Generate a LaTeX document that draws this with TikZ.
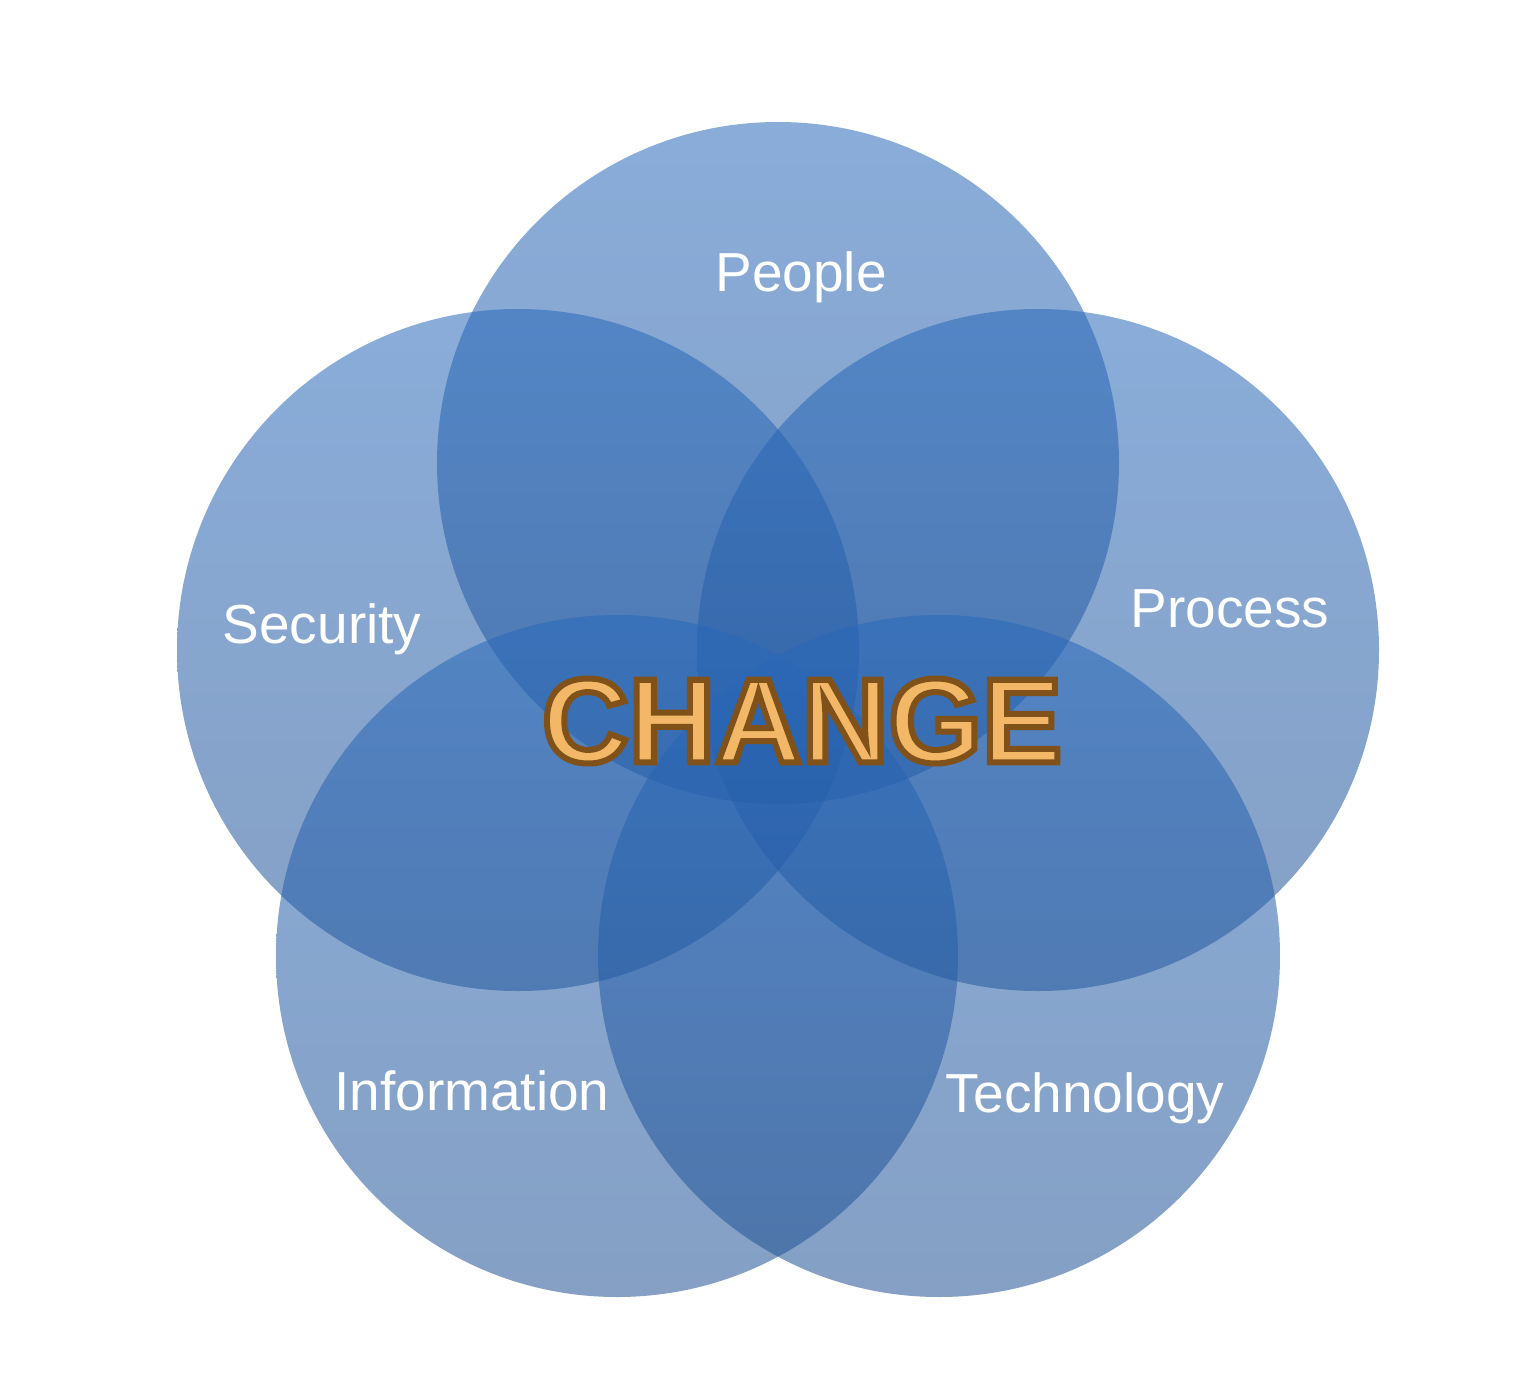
\documentclass[tikz,border=0pt]{standalone}
\usepackage{fontspec}
\setmainfont{Liberation Sans}
\newfontfamily\changefont{Liberation Sans Bold}[FakeBold=5]
\usepackage{tikz}
\definecolor{ringtop}{RGB}{41,105,187}
\definecolor{ringbot}{RGB}{33,82,148}
\newcommand{\changeword}[1]{\special{pdf:bcolor [0.949 0.722 0.408] [0.502 0.322 0.102]}#1\special{pdf:ecolor}}
\tikzset{
	ring/.style={circle, minimum size=341pt, inner sep=0pt, shade, top color=ringtop, bottom color=ringbot, fill opacity=0.55},
	area/.style={text=white, font=\fontsize{27.5}{30}\selectfont, anchor=base, inner sep=0pt},
	changetxt/.style={font=\changefont\fontsize{60}{63}\selectfont, inner sep=0pt}
}
\begin{document}
\begin{tikzpicture}[x=0.5pt,y=-0.5pt]
	 \path[fill=white,use as bounding box] (0,0) rectangle (1536,1396);
	 \node[ring] (people) at (778,463) {};
	 \node[ring] (security) at (518,650) {};
	 \node[ring] (process) at (1038,650) {};
	 \node[ring] (information) at (617,956) {};
	 \node[ring] (technology) at (939,956) {};
	 \node[area] (peopletxt) at (801,292) {People};
	 \node[area] (securitytxt) at (322,643) {Security};
	 \node[area] (processtxt) at (1230,627) {Process};
	 \node[area] (informationtxt) at (472,1110) {Information};
	 \node[area] (technologytxt) at (1085,1112) {Technology};
	 \node[changetxt] (change) at (802,721) {\changeword{CHANGE}};
\end{tikzpicture}
\end{document}
